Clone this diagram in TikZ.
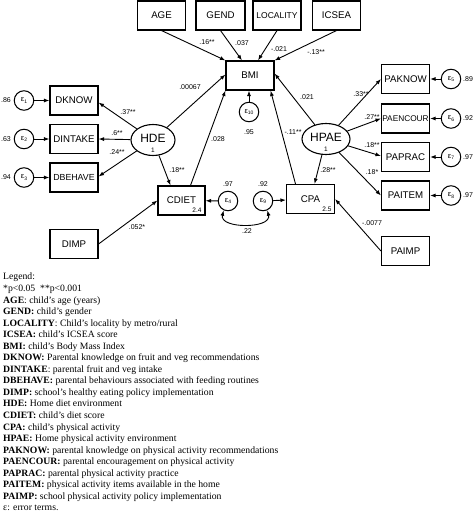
\documentclass[tikz,border=0pt]{standalone}
\usepackage{fontspec}
\setmainfont{Liberation Serif}
\newfontfamily\dsans{Liberation Sans}
\usetikzlibrary{arrows.meta,shapes.geometric,calc}
\tikzset{
 box/.style={draw, line width=1.1pt, minimum width=48pt, minimum height=29pt, inner sep=0pt, font=\dsans\fontsize{9.7}{10}\selectfont},
 lat/.style={draw, ellipse, line width=1.1pt, inner sep=0pt},
 lattext/.style={inner sep=0pt, font=\dsans\fontsize{12}{12}\selectfont},
 err/.style={draw, circle, line width=1pt, minimum size=19.5pt, inner sep=0pt, font=\dsans\fontsize{7.5}{8}\selectfont},
 lbl/.style={inner sep=0pt, font=\dsans\fontsize{7}{8}\selectfont},
 small/.style={inner sep=0pt, font=\dsans\fontsize{6.5}{7}\selectfont},
 arr/.style={line width=0.9pt, -{Latex[length=5.5pt,width=4pt]}},
 dbl/.style={line width=0.9pt, {Latex[length=5.5pt,width=4pt]}-{Latex[length=5.5pt,width=4pt]}},
}
\newcommand{\eps}[1]{ε\raisebox{-0.35ex}{\fontsize{5}{5}\selectfont #1}}
\begin{document}
\begin{tikzpicture}[x=1pt,y=-1pt]
\useasboundingbox (0,0) rectangle (474,516);
% top boxes
\node[box] (AGE) at (161.5,15.5) {AGE};
\node[box, minimum width=49pt] (GEND) at (220.5,15.5) {GEND};
\node[box, font=\dsans\fontsize{8.5}{9}\selectfont] (LOC) at (277,15.5) {LOCALITY};
\node[box] (ICSEA) at (336.5,15.5) {ICSEA};
\node[box] (BMI) at (250,75.5) {BMI};
% left
\node[box] (DKNOW) at (74,100.5) {DKNOW};
\node[box] (DINTAKE) at (74,139) {DINTAKE};
\node[box, font=\dsans\fontsize{8.8}{9}\selectfont] (DBEHAVE) at (74,177.5) {DBEHAVE};
\node[box] (DIMP) at (74,244) {DIMP};
\node[box, minimum width=47pt] (CDIET) at (181.5,200.5) {CDIET};
\node[box] (CPA) at (310.5,199) {CPA};
% right
\node[box] (PAKNOW) at (405.5,79) {PAKNOW};
\node[box, font=\dsans\fontsize{8.3}{9}\selectfont] (PAENCOUR) at (405.5,118.5) {PAENCOUR};
\node[box] (PAPRAC) at (405.5,157) {PAPRAC};
\node[box] (PAITEM) at (405.5,195.5) {PAITEM};
\node[box] (PAIMP) at (405.5,251) {PAIMP};
% latent
\node[lat, minimum width=44pt, minimum height=31pt] (HDE) at (153,140) {};
\node[lattext] (HDEt) at (153,138.5) {HDE};
\node[small] (HDE1) at (153,150) {1};
\node[lat, minimum width=48pt, minimum height=31pt] (HPAE) at (326,139) {};
\node[lattext] (HPAEt) at (326,137.5) {HPAE};
\node[small] (HPAE1) at (326,149) {1};
\node[small] (CD24) at (197,210) {2.4};
\node[small] (CP25) at (327,209) {2.5};
% errors
\node[err] (e1) at (24,100.5) {\eps{1}};
\node[err] (e2) at (24,139) {\eps{2}};
\node[err] (e3) at (24,177.5) {\eps{3}};
\node[err] (e4) at (228,201) {\eps{4}};
\node[err] (e9) at (263,201) {\eps{9}};
\node[err] (e10) at (249,112) {\eps{10}};
\node[err] (e5) at (451,79) {\eps{5}};
\node[err] (e6) at (451,118.5) {\eps{6}};
\node[err] (e7) at (451,157) {\eps{7}};
\node[err] (e8) at (451,195.5) {\eps{8}};
% error arrows
\draw[arr] (e1) -- (DKNOW);
\draw[arr] (e2) -- (DINTAKE);
\draw[arr] (e3) -- (DBEHAVE);
\draw[arr] (e4) -- (CDIET);
\draw[arr] (e9) -- (CPA);
\draw[arr] (e10) -- (e10 |- BMI.south);
\draw[arr] (e5) -- (PAKNOW);
\draw[arr] (e6) -- (PAENCOUR);
\draw[arr] (e7) -- (PAPRAC);
\draw[arr] (e8) -- (PAITEM);
\draw[dbl] (e4.245) .. controls (219,229) and (272,229) .. (e9.295);
% structural arrows
\draw[arr] (AGE.south) -- (BMI.north west);
\draw[arr] (GEND.south) -- ($(BMI.north)+(-8,0)$);
\draw[arr] (LOC.south) -- ($(BMI.north)+(8,0)$);
\draw[arr] (ICSEA.south) -- (BMI.north east);
\draw[arr] (HDE) -- ($(BMI.west)+(0,-1)$);
\draw[arr] ($(CDIET.north)+(9,0)$) -- (BMI.south west);
\draw[arr] ($(CPA.north)+(-15,0)$) -- ($(BMI.south east)+(-4,0)$);
\draw[arr] (HPAE) -- ($(BMI.east)+(0,-2)$);
\draw[arr] (HDE) -- ($(DKNOW.east)+(0,2)$);
\draw[arr] (HDE) -- (DINTAKE.east);
\draw[arr] (HDE) -- ($(DBEHAVE.east)+(0,-1)$);
\draw[arr] (HDE) -- ($(CDIET.north)+(-11,0)$);
\draw[arr] (DIMP.east) -- (CDIET.west);
\draw[arr] (PAIMP.west) -- (CPA.east);
\draw[arr] (HPAE) -- ($(CPA.north)+(4,0)$);
\draw[arr] (HPAE) -- (PAKNOW.west);
\draw[arr] (HPAE) -- (PAENCOUR.west);
\draw[arr] (HPAE) -- ($(PAPRAC.west)+(0,-1)$);
\draw[arr] (HPAE) -- (PAITEM.west);
% coefficient labels
\node[lbl] (c1) at (207,42) {.16**};
\node[lbl] (c2) at (242,43) {.037};
\node[lbl] (c3) at (279,49) {-.021};
\node[lbl] (c4) at (316,52) {-.13**};
\node[lbl] (c5) at (190,87) {.00067};
\node[lbl] (c6) at (218,139) {.028};
\node[lbl] (c7) at (307,97) {.021};
\node[lbl] (c8) at (293,132) {-.11**};
\node[lbl] (c9) at (128,112) {.37**};
\node[lbl] (c10) at (117,133) {.6**};
\node[lbl] (c11) at (117,152) {.24**};
\node[lbl] (c12) at (177,170) {.18**};
\node[lbl] (c13) at (137,227) {.052*};
\node[lbl] (c14) at (361,94) {.33**};
\node[lbl] (c15) at (372,117) {.27**};
\node[lbl] (c16) at (372,145) {.18**};
\node[lbl] (c17) at (372,172) {.18*};
\node[lbl] (c18) at (328,170) {.28**};
\node[lbl] (c19) at (372,223) {-.0077};
\node[lbl] (c20) at (247,231) {.22};
\node[lbl] (v4) at (228,184) {.97};
\node[lbl] (v9) at (263,184) {.92};
\node[lbl] (v10) at (249,132) {.95};
\node[lbl] (v1) at (6,100.5) {.86};
\node[lbl] (v2) at (6,139) {.63};
\node[lbl] (v3) at (6,177.5) {.94};
\node[lbl, anchor=west] (v5) at (463,79) {.89};
\node[lbl, anchor=west] (v6) at (463,118.5) {.92};
\node[lbl, anchor=west] (v7) at (463,157) {.97};
\node[lbl, anchor=west] (v8) at (463,195.5) {.97};
% legend
\node[anchor=north west, inner sep=0pt, align=left, font=\fontsize{9.7}{11.55}\selectfont] (legend) at (3,273) {%
Legend:\\
*p<0.05\ \ **p<0.001\\
\textbf{AGE}: child’s age (years)\\
\textbf{GEND:} child’s gender\\
\textbf{LOCALITY}: Child’s locality by metro/rural\\
\textbf{ICSEA:} child’s ICSEA score\\
\textbf{BMI:} child’s Body Mass Index\\
\textbf{DKNOW:} Parental knowledge on fruit and veg recommendations\\
\textbf{DINTAKE}: parental fruit and veg intake\\
\textbf{DBEHAVE:} parental behaviours associated with feeding routines\\
\textbf{DIMP:} school’s healthy eating policy implementation\\
\textbf{HDE:} Home diet environment\\
\textbf{CDIET:} child’s diet score\\
\textbf{CPA:} child’s physical activity\\
\textbf{HPAE:} Home physical activity environment\\
\textbf{PAKNOW:} parental knowledge on physical activity recommendations\\
\textbf{PAENCOUR:} parental encouragement on physical activity\\
\textbf{PAPRAC:} parental physical activity practice\\
\textbf{PAITEM:} physical activity items available in the home\\
\textbf{PAIMP:} school physical activity policy implementation\\
ε: error terms.};
\end{tikzpicture}
\end{document}
